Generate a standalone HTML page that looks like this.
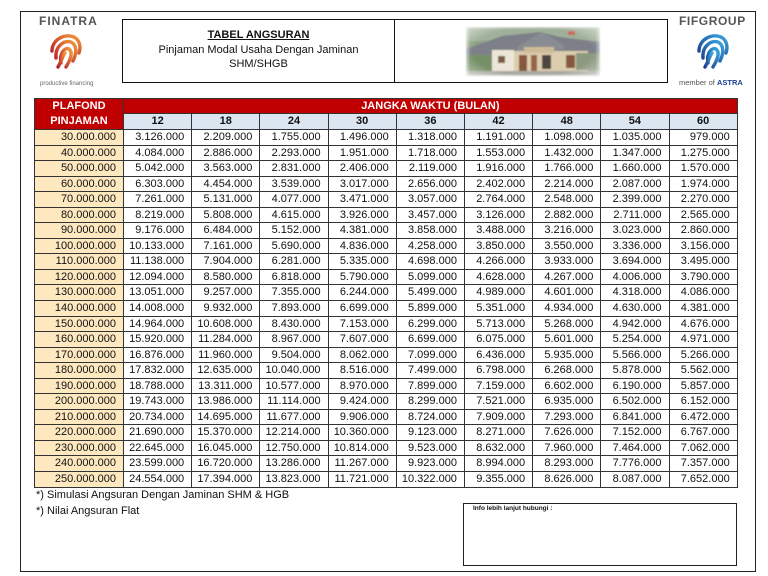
<!DOCTYPE html>
<html><head><meta charset="utf-8">
<style>
*{margin:0;padding:0;box-sizing:border-box}
body{width:768px;height:576px;background:#fff;position:relative;overflow:hidden;font-family:"Liberation Sans",Arial,sans-serif;color:#111}
.abs{position:absolute}
.frame{left:20px;top:11px;width:736px;height:561px;border:1px solid #222}
.title{left:122px;top:19px;width:273px;height:64px;border:1px solid #111;text-align:center}
.imgbox{left:394px;top:19px;width:274px;height:64px;border:1px solid #111}
.grid{position:absolute;left:34px;top:98px;display:grid;grid-template-columns:89px repeat(9,68.2px);grid-template-rows:15px 16px repeat(23,15.55px);border-left:1px solid #333;border-top:1px solid #333}
.grid div{border-right:1px solid #333;border-bottom:1px solid #333;font-size:11px;text-align:right;padding-right:7px;line-height:14px;white-space:nowrap;overflow:hidden}
.grid div.r{background:#c00000;color:#fff;font-weight:bold;text-align:center;padding-right:0;font-size:11px}
.grid div.b{background:#dce6f1;font-weight:bold;text-align:center;padding-right:0}
.grid div.p{background:#fde8c0}
</style></head><body>
<div class="abs frame"></div>

<!-- FINATRA logo -->
<div class="abs" style="left:39px;top:14px;font-weight:bold;font-size:12px;color:#555;letter-spacing:1px">FINATRA</div>
<svg class="abs" style="left:49px;top:32px" width="34" height="38" viewBox="0 0 34 38">
<defs><linearGradient id="gr" x1="0" y1="1" x2="1" y2="0"><stop offset="0" stop-color="#b81f2a"/><stop offset="1" stop-color="#f29a3a"/></linearGradient></defs>
<g fill="none" stroke="url(#gr)" stroke-linecap="round" stroke-width="3.4">
<path d="M3 19 C3 8 15 1 25 5 C31 8 32 15 30 21"/>
<path d="M7 26 C6 14 15 8 22 10 C28 13 28 21 24 29"/>
<path d="M12 31 C10 21 16 15 20 17 C24 20 22 27 17 35"/>
<path d="M9 35 C13 28 14 23 16 21"/>
</g></svg>
<div class="abs" style="left:40px;top:81px;font-size:6px;color:#666">productive financing</div>

<!-- Title box -->
<div class="abs title">
<div style="font-weight:bold;font-size:11px;text-decoration:underline;margin-top:9px">TABEL ANGSURAN</div>
<div style="font-size:11px;margin-top:3px">Pinjaman Modal Usaha Dengan Jaminan</div>
<div style="font-size:11px;margin-top:2px">SHM/SHGB</div>
</div>

<!-- Image box -->
<div class="abs imgbox"></div>
<svg class="abs" style="left:462px;top:23px" width="142" height="57" viewBox="0 0 142 57">
<defs><filter id="bl"><feGaussianBlur stdDeviation="0.7"/></filter>
<radialGradient id="fade" cx="0.5" cy="0.5" r="0.7">
<stop offset="0.6" stop-color="#fff" stop-opacity="0"/>
<stop offset="0.85" stop-color="#fff" stop-opacity="0.7"/>
<stop offset="1" stop-color="#fff" stop-opacity="1"/></radialGradient>
<linearGradient id="fx" x1="0" y1="0" x2="1" y2="0">
<stop offset="0" stop-color="#fff" stop-opacity="1"/><stop offset="0.06" stop-color="#fff" stop-opacity="0"/>
<stop offset="0.94" stop-color="#fff" stop-opacity="0"/><stop offset="1" stop-color="#fff" stop-opacity="1"/></linearGradient>
<linearGradient id="fy" x1="0" y1="0" x2="0" y2="1">
<stop offset="0" stop-color="#fff" stop-opacity="1"/><stop offset="0.12" stop-color="#fff" stop-opacity="0"/>
<stop offset="0.88" stop-color="#fff" stop-opacity="0"/><stop offset="1" stop-color="#fff" stop-opacity="1"/></linearGradient>
</defs>
<g filter="url(#bl)">
<rect x="4" y="4" width="134" height="49" fill="#8ea083"/>
<rect x="4" y="4" width="134" height="14" fill="#9fb09a"/>
<polygon points="4,26 40,13 78,9 98,14 138,19 138,30 4,32" fill="#7d8088"/>
<polygon points="55,24 80,9 102,22 102,26 55,28" fill="#8a8c93"/>
<rect x="30" y="28" width="96" height="21" fill="#dccdae"/>
<rect x="30" y="27" width="22" height="22" fill="#ede6d8"/>
<rect x="62" y="24" width="30" height="6" fill="#cdbb98"/>
<rect x="36" y="33" width="7" height="7" fill="#7a5c47"/>
<rect x="57" y="32" width="8" height="17" fill="#86583d"/>
<rect x="69" y="32" width="6" height="17" fill="#94654a"/>
<rect x="80" y="32" width="9" height="14" fill="#4e4540"/>
<rect x="104" y="32" width="9" height="13" fill="#86583d"/>
<rect x="4" y="32" width="26" height="17" fill="#758f66"/>
<rect x="114" y="30" width="24" height="17" fill="#8c9a80"/>
<rect x="4" y="48" width="134" height="5" fill="#a8a8a0"/>
<rect x="106" y="8" width="7" height="4" fill="#c86a5a"/>
</g>
<rect x="0" y="0" width="142" height="57" fill="url(#fx)"/>
<rect x="0" y="0" width="142" height="57" fill="url(#fy)"/>
<rect x="0" y="0" width="142" height="57" fill="url(#fade)" opacity="0.6"/>
</svg>

<!-- FIFGROUP logo -->
<div class="abs" style="left:679px;top:14px;font-weight:bold;font-size:12px;color:#555;letter-spacing:0.6px">FIFGROUP</div>
<svg class="abs" style="left:696px;top:32px" width="34" height="38" viewBox="0 0 34 38">
<defs><linearGradient id="gb" x1="0" y1="1" x2="1" y2="0"><stop offset="0" stop-color="#1b3f8f"/><stop offset="1" stop-color="#3aa6e0"/></linearGradient></defs>
<g fill="none" stroke="url(#gb)" stroke-linecap="round" stroke-width="3.4">
<path d="M3 19 C3 8 15 1 25 5 C31 8 32 15 30 21"/>
<path d="M7 26 C6 14 15 8 22 10 C28 13 28 21 24 29"/>
<path d="M12 31 C10 21 16 15 20 17 C24 20 22 27 17 35"/>
<path d="M9 35 C13 28 14 23 16 21"/>
</g></svg>
<div class="abs" style="left:679px;top:78px;font-size:7.5px;color:#555">member of <b style="color:#1b3f8f">ASTRA</b></div>

<!-- Table -->
<div class="grid">
<div class="r" style="border-bottom-color:#c00000">PLAFOND</div>
<div class="r" style="grid-column:2 / span 9;border-right-color:#333">JANGKA WAKTU (BULAN)</div>
<div class="r" style="line-height:15px">PINJAMAN</div>
<div class="b">12</div><div class="b">18</div><div class="b">24</div><div class="b">30</div><div class="b">36</div><div class="b">42</div><div class="b">48</div><div class="b">54</div><div class="b">60</div>
<div class="p">30.000.000</div><div>3.126.000</div><div>2.209.000</div><div>1.755.000</div><div>1.496.000</div><div>1.318.000</div><div>1.191.000</div><div>1.098.000</div><div>1.035.000</div><div>979.000</div>
<div class="p">40.000.000</div><div>4.084.000</div><div>2.886.000</div><div>2.293.000</div><div>1.951.000</div><div>1.718.000</div><div>1.553.000</div><div>1.432.000</div><div>1.347.000</div><div>1.275.000</div>
<div class="p">50.000.000</div><div>5.042.000</div><div>3.563.000</div><div>2.831.000</div><div>2.406.000</div><div>2.119.000</div><div>1.916.000</div><div>1.766.000</div><div>1.660.000</div><div>1.570.000</div>
<div class="p">60.000.000</div><div>6.303.000</div><div>4.454.000</div><div>3.539.000</div><div>3.017.000</div><div>2.656.000</div><div>2.402.000</div><div>2.214.000</div><div>2.087.000</div><div>1.974.000</div>
<div class="p">70.000.000</div><div>7.261.000</div><div>5.131.000</div><div>4.077.000</div><div>3.471.000</div><div>3.057.000</div><div>2.764.000</div><div>2.548.000</div><div>2.399.000</div><div>2.270.000</div>
<div class="p">80.000.000</div><div>8.219.000</div><div>5.808.000</div><div>4.615.000</div><div>3.926.000</div><div>3.457.000</div><div>3.126.000</div><div>2.882.000</div><div>2.711.000</div><div>2.565.000</div>
<div class="p">90.000.000</div><div>9.176.000</div><div>6.484.000</div><div>5.152.000</div><div>4.381.000</div><div>3.858.000</div><div>3.488.000</div><div>3.216.000</div><div>3.023.000</div><div>2.860.000</div>
<div class="p">100.000.000</div><div>10.133.000</div><div>7.161.000</div><div>5.690.000</div><div>4.836.000</div><div>4.258.000</div><div>3.850.000</div><div>3.550.000</div><div>3.336.000</div><div>3.156.000</div>
<div class="p">110.000.000</div><div>11.138.000</div><div>7.904.000</div><div>6.281.000</div><div>5.335.000</div><div>4.698.000</div><div>4.266.000</div><div>3.933.000</div><div>3.694.000</div><div>3.495.000</div>
<div class="p">120.000.000</div><div>12.094.000</div><div>8.580.000</div><div>6.818.000</div><div>5.790.000</div><div>5.099.000</div><div>4.628.000</div><div>4.267.000</div><div>4.006.000</div><div>3.790.000</div>
<div class="p">130.000.000</div><div>13.051.000</div><div>9.257.000</div><div>7.355.000</div><div>6.244.000</div><div>5.499.000</div><div>4.989.000</div><div>4.601.000</div><div>4.318.000</div><div>4.086.000</div>
<div class="p">140.000.000</div><div>14.008.000</div><div>9.932.000</div><div>7.893.000</div><div>6.699.000</div><div>5.899.000</div><div>5.351.000</div><div>4.934.000</div><div>4.630.000</div><div>4.381.000</div>
<div class="p">150.000.000</div><div>14.964.000</div><div>10.608.000</div><div>8.430.000</div><div>7.153.000</div><div>6.299.000</div><div>5.713.000</div><div>5.268.000</div><div>4.942.000</div><div>4.676.000</div>
<div class="p">160.000.000</div><div>15.920.000</div><div>11.284.000</div><div>8.967.000</div><div>7.607.000</div><div>6.699.000</div><div>6.075.000</div><div>5.601.000</div><div>5.254.000</div><div>4.971.000</div>
<div class="p">170.000.000</div><div>16.876.000</div><div>11.960.000</div><div>9.504.000</div><div>8.062.000</div><div>7.099.000</div><div>6.436.000</div><div>5.935.000</div><div>5.566.000</div><div>5.266.000</div>
<div class="p">180.000.000</div><div>17.832.000</div><div>12.635.000</div><div>10.040.000</div><div>8.516.000</div><div>7.499.000</div><div>6.798.000</div><div>6.268.000</div><div>5.878.000</div><div>5.562.000</div>
<div class="p">190.000.000</div><div>18.788.000</div><div>13.311.000</div><div>10.577.000</div><div>8.970.000</div><div>7.899.000</div><div>7.159.000</div><div>6.602.000</div><div>6.190.000</div><div>5.857.000</div>
<div class="p">200.000.000</div><div>19.743.000</div><div>13.986.000</div><div>11.114.000</div><div>9.424.000</div><div>8.299.000</div><div>7.521.000</div><div>6.935.000</div><div>6.502.000</div><div>6.152.000</div>
<div class="p">210.000.000</div><div>20.734.000</div><div>14.695.000</div><div>11.677.000</div><div>9.906.000</div><div>8.724.000</div><div>7.909.000</div><div>7.293.000</div><div>6.841.000</div><div>6.472.000</div>
<div class="p">220.000.000</div><div>21.690.000</div><div>15.370.000</div><div>12.214.000</div><div>10.360.000</div><div>9.123.000</div><div>8.271.000</div><div>7.626.000</div><div>7.152.000</div><div>6.767.000</div>
<div class="p">230.000.000</div><div>22.645.000</div><div>16.045.000</div><div>12.750.000</div><div>10.814.000</div><div>9.523.000</div><div>8.632.000</div><div>7.960.000</div><div>7.464.000</div><div>7.062.000</div>
<div class="p">240.000.000</div><div>23.599.000</div><div>16.720.000</div><div>13.286.000</div><div>11.267.000</div><div>9.923.000</div><div>8.994.000</div><div>8.293.000</div><div>7.776.000</div><div>7.357.000</div>
<div class="p">250.000.000</div><div>24.554.000</div><div>17.394.000</div><div>13.823.000</div><div>11.721.000</div><div>10.322.000</div><div>9.355.000</div><div>8.626.000</div><div>8.087.000</div><div>7.652.000</div>
</div>

<!-- Notes -->
<div class="abs" style="left:36px;top:489px;font-size:11px">*) Simulasi Angsuran Dengan Jaminan SHM &amp; HGB</div>
<div class="abs" style="left:36px;top:505px;font-size:11px">*) Nilai Angsuran Flat</div>

<!-- Info box -->
<div class="abs" style="left:463px;top:503px;width:274px;height:63px;border:1px solid #222"></div>
<div class="abs" style="left:473px;top:505px;font-size:6.5px;font-weight:bold">Info lebih lanjut hubungi :</div>
</body></html>
